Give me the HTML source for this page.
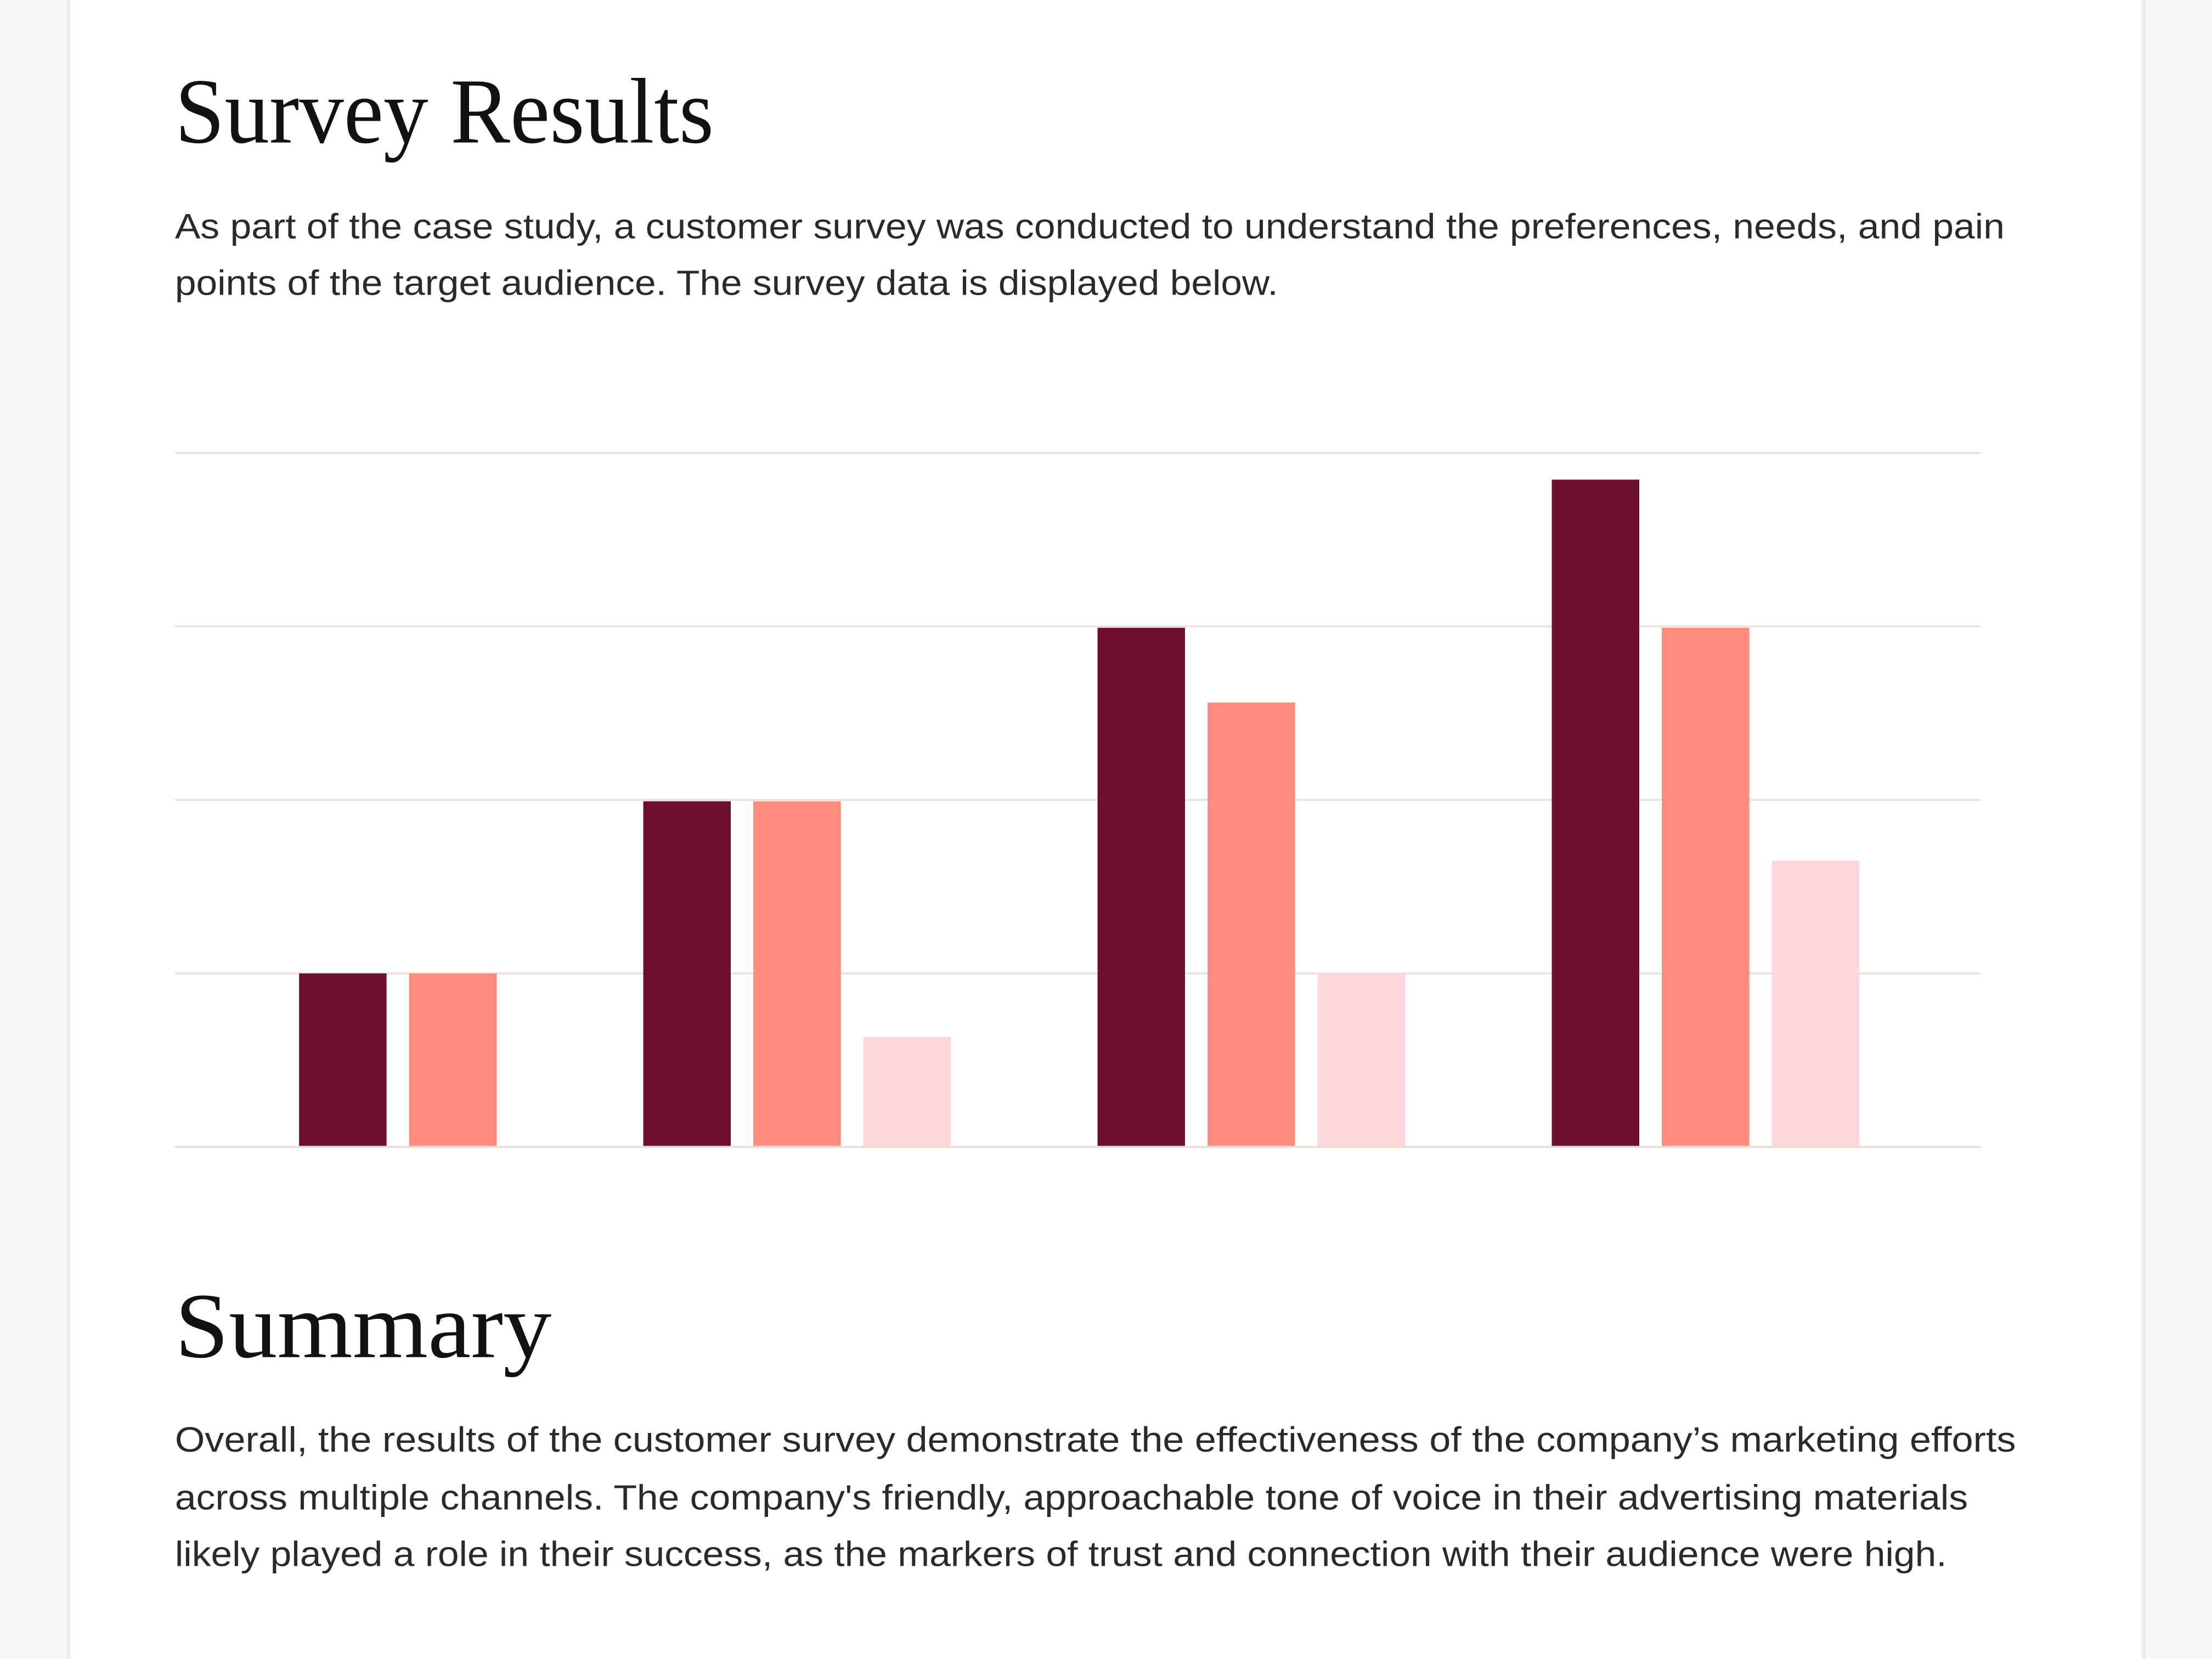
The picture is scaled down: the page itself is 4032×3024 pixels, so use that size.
<!DOCTYPE html>
<html><head><meta charset="utf-8"><style>
html,body{margin:0;padding:0;background:#f7f7f7;}
svg{display:block;}
</style></head><body>
<svg width="4032" height="3024" viewBox="0 0 1568 1176" xmlns="http://www.w3.org/2000/svg">
<rect x="0" y="0" width="1568" height="1176" fill="#f7f7f7"/>
<rect x="47" y="0" width="1474" height="1176" fill="#ececec"/>
<rect x="50" y="0" width="1468" height="1176" fill="#ffffff"/>
<text x="124" y="101" font-family="Liberation Serif, serif" font-size="66" fill="#111" textLength="382" lengthAdjust="spacingAndGlyphs">Survey Results</text>
<g font-family="Liberation Sans, sans-serif" font-size="25" fill="#2a2a2a">
<text x="124" y="169" textLength="1297" lengthAdjust="spacingAndGlyphs">As part of the case study, a customer survey was conducted to understand the preferences, needs, and pain</text>
<text x="124" y="209" textLength="782" lengthAdjust="spacingAndGlyphs">points of the target audience. The survey data is displayed below.</text>
</g>
<g stroke="#ebe3da" stroke-width="1.5">
<line x1="124" y1="321" x2="1404" y2="321"/>
<line x1="124" y1="444" x2="1404" y2="444"/>
<line x1="124" y1="567" x2="1404" y2="567"/>
<line x1="124" y1="690" x2="1404" y2="690"/>
</g>
<g fill="#6d0f2d">
<rect x="212" y="690" width="62" height="123"/>
<rect x="456" y="568" width="62" height="245"/>
<rect x="778" y="445" width="62" height="368"/>
<rect x="1100" y="340" width="62" height="473"/>
</g>
<g fill="#ff8a7e">
<rect x="290" y="690" width="62" height="123"/>
<rect x="534" y="568" width="62" height="245"/>
<rect x="856" y="498" width="62" height="315"/>
<rect x="1178" y="445" width="62" height="368"/>
</g>
<g fill="#ffd6dc">
<rect x="612" y="735" width="62" height="78"/>
<rect x="934" y="690" width="62" height="123"/>
<rect x="1256" y="610" width="62" height="203"/>
</g>
<line x1="124" y1="813" x2="1404" y2="813" stroke="#e6ddd3" stroke-width="1.5"/>
<text x="124" y="962" font-family="Liberation Serif, serif" font-size="66" fill="#111" textLength="267" lengthAdjust="spacingAndGlyphs">Summary</text>
<g font-family="Liberation Sans, sans-serif" font-size="25" fill="#2a2a2a">
<text x="124" y="1029" textLength="1305" lengthAdjust="spacingAndGlyphs">Overall, the results of the customer survey demonstrate the effectiveness of the company’s marketing efforts</text>
<text x="124" y="1070" textLength="1271" lengthAdjust="spacingAndGlyphs">across multiple channels. The company's friendly, approachable tone of voice in their advertising materials</text>
<text x="124" y="1110" textLength="1256" lengthAdjust="spacingAndGlyphs">likely played a role in their success, as the markers of trust and connection with their audience were high.</text>
</g>
</svg>
</body></html>
